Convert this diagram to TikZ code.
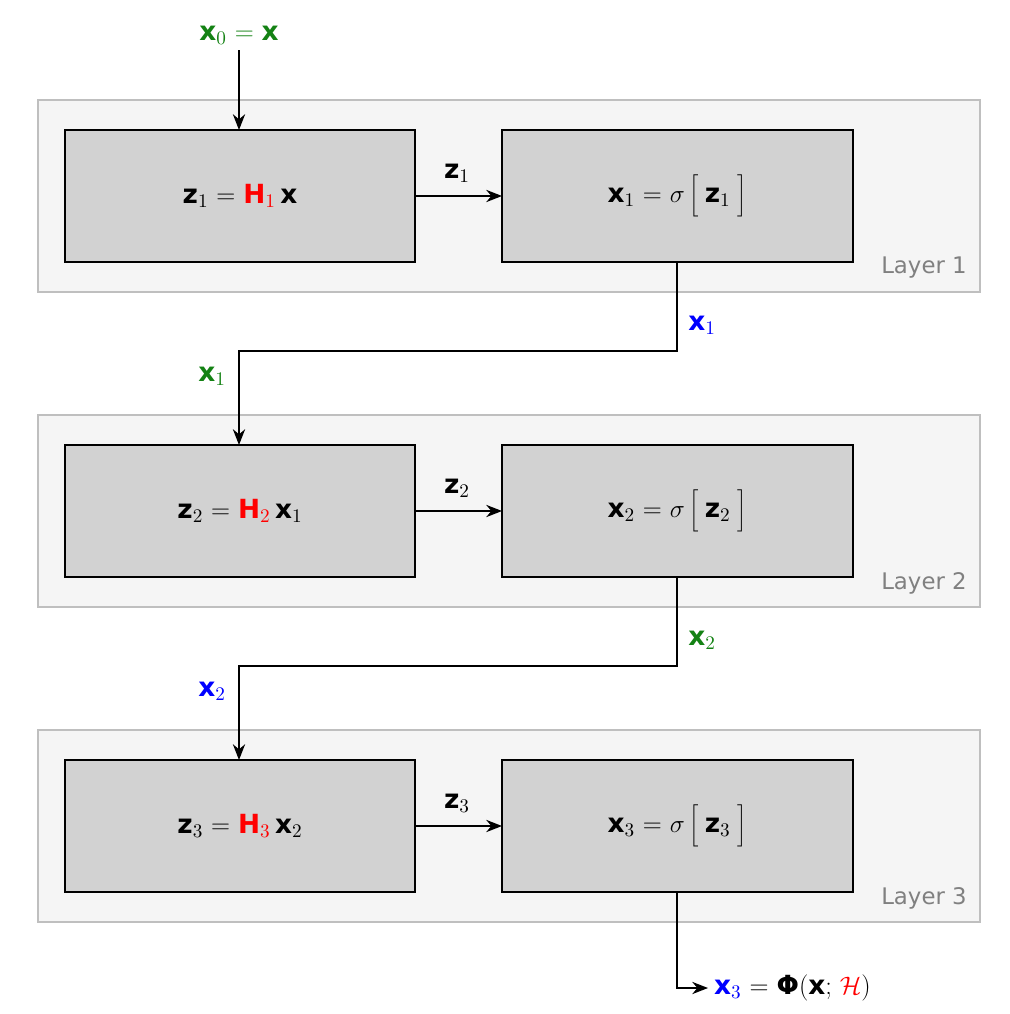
\documentclass[tikz,border=0pt]{standalone}
\usepackage{fontspec}
\setsansfont{DejaVu Sans}
\newfontfamily\dvs{DejaVu Sans}
\usetikzlibrary{arrows.meta}
\definecolor{dg}{RGB}{20,130,20}
\newcommand{\vb}[1]{\textsf{\textbf{#1}}}
\begin{document}
\begin{tikzpicture}[x=0.02cm,y=-0.02cm,
  layer/.style={draw=gray!50,fill=gray!8,line width=0.8pt},
  blk/.style={draw=black,fill=gray!35,line width=0.8pt},
  arr/.style={-{Stealth[length=9pt,width=7pt]},line width=0.8pt},
  txt/.style={font=\fontsize{15}{17}\selectfont},
  lay/.style={font=\sffamily\fontsize{13}{15}\selectfont,text=gray}]
\useasboundingbox (0,0) rectangle (1009,1014);
\node[txt,text=dg] (x0) at (239,35) {\vb{x}$_0$ = \vb{x}};
\foreach \i/\o in {1/0,2/315,3/630}{
  \begin{scope}[yshift=-\o*0.02cm]
  \draw[layer] (38,100) rectangle (980,292);
  \node[lay] (lab\i) at (924,268) {Layer \i};
  \draw[blk] (65,130) rectangle (415,262);
  \draw[blk] (502,130) rectangle (853,262);
  \coordinate (Lin\i) at (239,130);
  \coordinate (Le\i) at (415,196);
  \coordinate (Rw\i) at (502,196);
  \coordinate (Rout\i) at (677,262);
  \node[txt] (zl\i) at (457,173) {\vb{z}$_\i$};
  \draw[arr] (Le\i) -- (Rw\i);
  \node[txt] (rt\i) at (677,196) {\vb{x}$_\i$ = $\sigma\left[\vphantom{\bigg|}\right.$\,\vb{z}$_\i$\,$\left.\vphantom{\bigg|}\right]$};
  \end{scope}}
\node[txt] (lt1) at (240,196) {\vb{z}$_1$ = \textcolor{red}{\vb{H}$_1$}\,\vb{x}};
\node[txt] (lt2) at (240,511) {\vb{z}$_2$ = \textcolor{red}{\vb{H}$_2$}\,\vb{x}$_1$};
\node[txt] (lt3) at (240,826) {\vb{z}$_3$ = \textcolor{red}{\vb{H}$_3$}\,\vb{x}$_2$};
\draw[arr] (x0.south -| Lin1) -- (Lin1);
\draw[arr] (Rout1) -- (677,351) -- (239,351) -- (Lin2);
\draw[arr] (Rout2) -- (677,666) -- (239,666) -- (Lin3);
\node[txt,text=blue] (o1) at (702,325) {\vb{x}$_1$};
\node[txt,text=dg] (i1) at (212,376) {\vb{x}$_1$};
\node[txt,text=dg] (o2) at (702,640) {\vb{x}$_2$};
\node[txt,text=blue] (i2) at (212,691) {\vb{x}$_2$};
\node[txt,anchor=west] (fin) at (708,988) {\textcolor{blue}{\vb{x}$_3$} = {\dvs\bfseries Φ}(\vb{x}; \textcolor{red}{$\mathcal{H}$})};
\draw[arr] (Rout3) -- (677,988) -- (fin.west);
\end{tikzpicture}
\end{document}
